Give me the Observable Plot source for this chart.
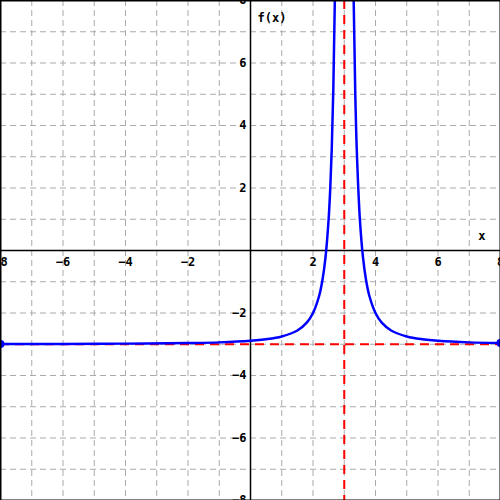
<!DOCTYPE html>
<html>
<head>
<meta charset="utf-8">
<script src="https://cdn.jsdelivr.net/npm/d3@7"></script>
<script src="https://cdn.jsdelivr.net/npm/@observablehq/plot@0.6"></script>
<style>
  html, body { margin: 0; padding: 0; background: #fff; }
</style>
</head>
<body>
<div id="chart"></div>
<script>
// Left branch of the curve (x < 3)
const leftX = [-8, -6, -4, -2, -1, 0, 0.5, 1, 1.5, 1.8, 2, 2.2, 2.3, 2.4, 2.5, 2.55, 2.6, 2.65, 2.7, 2.75];
const leftY = [-2.992, -2.988, -2.98, -2.96, -2.94, -2.89, -2.84, -2.75, -2.56, -2.31, -2, -1.44, -0.96, -0.22, 1, 1.94, 3.25, 5.16, 8.1, 13];
// Right branch of the curve (x > 3)
const rightX = [3.25, 3.3, 3.35, 3.4, 3.5, 3.6, 3.7, 3.8, 4, 4.2, 4.5, 5, 5.5, 6, 7, 8];
const rightY = [13, 8.1, 5.16, 3.25, 1, -0.22, -0.96, -1.44, -2, -2.31, -2.56, -2.75, -2.84, -2.89, -2.94, -2.96];
// Endpoints marked with dots
const endX = [-8, 8];
const endY = [-2.992, -2.96];
// Asymptotes
const vAsymptote = [3];
const hAsymptote = [-3];
// Grid and tick labels
const gridValues = [-7, -6, -5, -4, -3, -2, -1, 1, 2, 3, 4, 5, 6, 7];
const tickLabels = [-8, -6, -4, -2, 2, 4, 6, 8];

const left = leftX.map((x, i) => ({x, y: leftY[i]}));
const right = rightX.map((x, i) => ({x, y: rightY[i]}));
const ends = endX.map((x, i) => ({x, y: endY[i]}));

const font = "'DejaVu Sans Mono', monospace";

const chart = Plot.plot({
  width: 500,
  height: 500,
  margin: 0,
  x: {domain: [-8, 8], axis: null},
  y: {domain: [-8, 8], axis: null},
  style: {fontFamily: font, background: "#fff"},
  marks: [
    Plot.ruleX(gridValues, {stroke: "#aaaaaa", strokeWidth: 1, strokeDasharray: "6,4"}),
    Plot.ruleY(gridValues, {stroke: "#aaaaaa", strokeWidth: 1, strokeDasharray: "6,4"}),
    Plot.ruleX([0], {stroke: "#000", strokeWidth: 1.5}),
    Plot.ruleY([0], {stroke: "#000", strokeWidth: 1.5}),
    Plot.ruleY(hAsymptote, {stroke: "#ff0000", strokeWidth: 2, strokeDasharray: "9,6"}),
    Plot.ruleX(vAsymptote, {stroke: "#ff0000", strokeWidth: 2, strokeDasharray: "9,6"}),
    Plot.line(left, {x: "x", y: "y", stroke: "#0000ff", strokeWidth: 2.5, curve: "catmull-rom", clip: true}),
    Plot.line(right, {x: "x", y: "y", stroke: "#0000ff", strokeWidth: 2.5, curve: "catmull-rom", clip: true}),
    Plot.dot(ends, {x: "x", y: "y", r: 4, fill: "#0000ff", stroke: "none"}),
    Plot.text(tickLabels, {x: d => d, y: 0, text: d => String(d).replace("-", "\u2212"), dy: 12, textAnchor: "middle", fontSize: 12, fontWeight: "bold", fill: "#000"}),
    Plot.text(tickLabels, {x: 0, y: d => d, text: d => String(d).replace("-", "\u2212"), dx: -4, textAnchor: "end", fontSize: 12, fontWeight: "bold", fill: "#000"}),
    Plot.text(["f(x)"], {x: 0, y: 8, text: d => d, dx: 7, dy: 18, textAnchor: "start", fontSize: 12, fontWeight: "bold", fill: "#000"}),
    Plot.text(["x"], {x: 7.4, y: 0, text: d => d, dy: -14, textAnchor: "middle", fontSize: 12, fontWeight: "bold", fill: "#000"}),
    Plot.frame({stroke: "#000", strokeWidth: 2})
  ]
});

document.getElementById("chart").appendChild(chart);
</script>
</body>
</html>
